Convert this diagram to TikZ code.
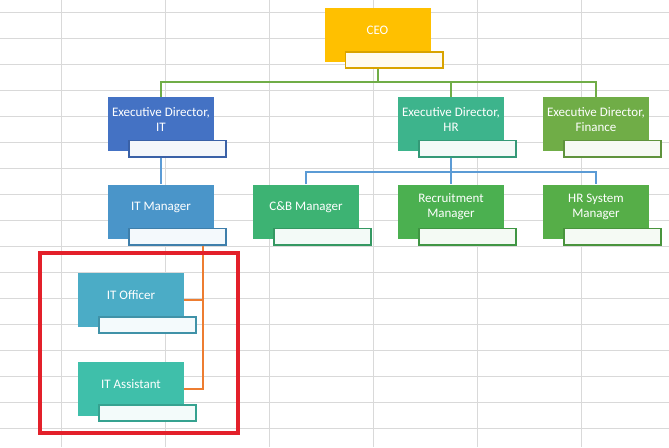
\documentclass[tikz,border=0pt]{standalone}
\usepackage{fontspec}
\setmainfont{Carlito}
\definecolor{gridc}{HTML}{D9D9D9}
\definecolor{cceo}{HTML}{FFC000}
\definecolor{citd}{HTML}{4472C4}
\definecolor{chrd}{HTML}{3DB48C}
\definecolor{cfin}{HTML}{70AD47}
\definecolor{citm}{HTML}{4A95C9}
\definecolor{ccb}{HTML}{3DB373}
\definecolor{crec}{HTML}{4BB050}
\definecolor{chrs}{HTML}{56AE48}
\definecolor{coff}{HTML}{4BACC6}
\definecolor{cass}{HTML}{3FBFAA}
\definecolor{lgreen}{HTML}{70AD47}
\definecolor{lblue}{HTML}{5B9BD5}
\definecolor{lorange}{HTML}{ED7D31}
\definecolor{cred}{HTML}{E3202A}
\begin{document}
\begin{tikzpicture}[x=1pt,y=-1pt,
  box/.style={draw=none, fill=#1, minimum width=106pt, minimum height=54pt, inner sep=0pt},
  subbox/.style={draw=#1!85!black, fill=#1!6!white, line width=1.6pt, minimum width=97.4pt, minimum height=16.4pt, inner sep=0pt},
  txt/.style={text=white, font=\fontsize{13}{15}\selectfont, align=center, inner sep=0pt},
  conn/.style={line width=2pt},
  gridline/.style={draw=gridc, line width=1pt}]
\fill[white] (0,0) rectangle (669,447);
\useasboundingbox (0,0) rectangle (669,447);
% grid
\foreach \gx in {61,165,269,373,477,581}
  \draw[gridline] (\gx,0) -- (\gx,447);
\foreach \gy in {12,38,64,90,116,142,168,194,220,246,272,298,324,350,376,402,428}
  \draw[gridline] (0,\gy) -- (669,\gy);
% boxes
\node[box=cceo] (ceo) at (377.5,35) {};
\node[box=citd] (itd) at (161,124) {};
\node[box=chrd] (hrd) at (451,124) {};
\node[box=cfin] (fin) at (596,124) {};
\node[box=citm] (itm) at (161,211.5) {};
\node[box=ccb]  (cb)  at (306,211.5) {};
\node[box=crec] (rec) at (451,211.5) {};
\node[box=chrs] (hrs) at (596,211.5) {};
\node[box=coff] (off) at (131,300) {};
\node[box=cass] (ass) at (131,389) {};
% sub boxes
\node[subbox=cceo] (ceos) at ([shift={(16.5,25)}]ceo.center) {};
\node[subbox=citd] (itds) at ([shift={(16.5,24.5)}]itd.center) {};
\node[subbox=chrd] (hrds) at ([shift={(16.5,24.5)}]hrd.center) {};
\node[subbox=cfin] (fins) at ([shift={(16.5,24.5)}]fin.center) {};
\node[subbox=citm] (itms) at ([shift={(16.5,25)}]itm.center) {};
\node[subbox=ccb]  (cbs)  at ([shift={(16.5,25)}]cb.center) {};
\node[subbox=crec] (recs) at ([shift={(16.5,25)}]rec.center) {};
\node[subbox=chrs] (hrss) at ([shift={(16.5,25)}]hrs.center) {};
\node[subbox=coff] (offs) at ([shift={(16.5,25)}]off.center) {};
\node[subbox=cass] (asss) at ([shift={(16.5,24)}]ass.center) {};
% texts
\node[txt] (ceot) at ([yshift=4.5pt]ceo.center) {CEO};
\node[txt] (itdt) at ([yshift=4.5pt]itd.center) {Executive Director,\\IT};
\node[txt] (hrdt) at ([yshift=4.5pt]hrd.center) {Executive Director,\\HR};
\node[txt] (fint) at ([yshift=4.5pt]fin.center) {Executive Director,\\Finance};
\node[txt] (itmt) at ([yshift=4.5pt]itm.center) {IT Manager};
\node[txt] (cbt)  at ([yshift=4.5pt]cb.center) {C\&B Manager};
\node[txt] (rect) at ([yshift=4.5pt]rec.center) {Recruitment\\Manager};
\node[txt] (hrst) at ([yshift=4.5pt]hrs.center) {HR System\\Manager};
\node[txt] (offt) at ([yshift=4.5pt]off.center) {IT Officer};
\node[txt] (asst) at ([yshift=4.5pt]ass.center) {IT Assistant};
% connectors
\coordinate (bus1) at (0,82);
\coordinate (bus2) at (0,172);
\coordinate (obus) at (203,0);
\draw[conn, lgreen] (ceos.south -| ceo.center) -- (ceo.center |- bus1);
\draw[conn, lgreen] (itd.north) -- (itd.north |- bus1) -- (fin.north |- bus1) -- (fin.north);
\draw[conn, lgreen] (hrd.north |- bus1) -- (hrd.north);
\draw[conn, lblue] (itds.south -| itd.center) -- (itm.north);
\draw[conn, lblue] (hrds.south -| hrd.center) -- (hrd.center |- bus2);
\draw[conn, lblue] (cb.north) -- (cb.north |- bus2) -- (hrs.north |- bus2) -- (hrs.north);
\draw[conn, lblue] (rec.north |- bus2) -- (rec.north);
\draw[conn, lorange] (itms.south -| obus) -- (ass.east -| obus) -- (ass.east);
\draw[conn, lorange] (off.east) -- (off.east -| obus);
% highlight
\draw[cred, line width=4pt] (40,253) rectangle (238,433);
\end{tikzpicture}
\end{document}
